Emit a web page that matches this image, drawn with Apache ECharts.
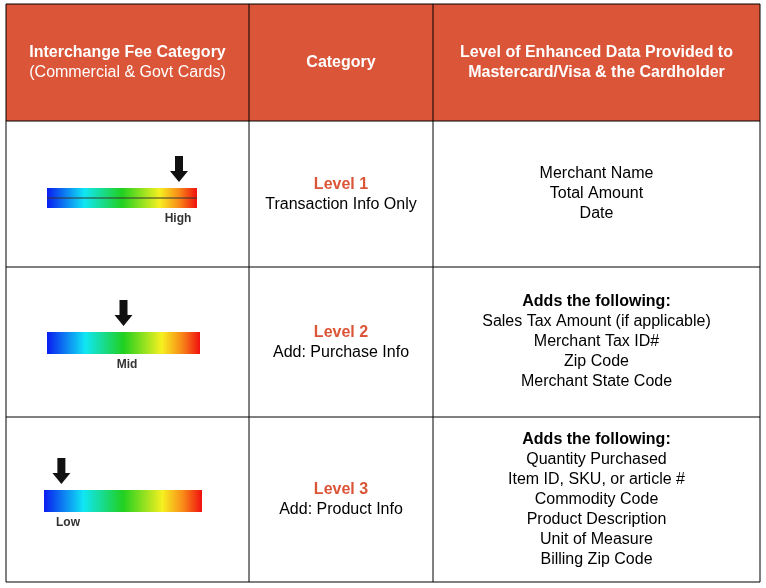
<!DOCTYPE html>
<html>
<head>
  <meta charset="utf-8">
  <script src="https://cdn.jsdelivr.net/npm/echarts@6/dist/echarts.min.js"></script>
  <style>html,body{margin:0;padding:0;background:#fff}</style>
</head>
<body>
  <div id="table" style="width:766px;height:588px;"></div>
  <script>
    // table content
    const headers = [
      ['{b|Interchange Fee Category}', '(Commercial & Govt Cards)'],
      ['{b|Category}'],
      ['{b|Level of Enhanced Data Provided to}', '{b|Mastercard/Visa & the Cardholder}']
    ];
    const levels = ['Level 1', 'Level 2', 'Level 3'];
    const levelDesc = ['Transaction Info Only', 'Add: Purchase Info', 'Add: Product Info'];
    const feeLabels = ['High', 'Mid', 'Low'];
    const arrowPos = [0.88, 0.5, 0.11];   // arrow position along the gradient bar
    const details = [
      ['Merchant Name', 'Total Amount', 'Date'],
      ['{b|Adds the following:}', 'Sales Tax Amount (if applicable)', 'Merchant Tax ID#', 'Zip Code', 'Merchant State Code'],
      ['{b|Adds the following:}', 'Quantity Purchased', 'Item ID, SKU, or article #', 'Commodity Code', 'Product Description', 'Unit of Measure', 'Billing Zip Code']
    ];

    const colX = [6, 249, 433, 760];
    const rowY = [4, 121, 267, 417, 582];
    const bars = [[47, 188, 150, 20], [47, 332, 153, 22], [44, 490, 158, 22]];
    const orange = '#db5538';
    const font = 'Liberation Sans';

    const chart = echarts.init(document.getElementById('table'));
    const g = [];
    g.push({ type: 'rect', shape: { x: colX[0], y: rowY[0], width: colX[3] - colX[0], height: rowY[1] - rowY[0] }, style: { fill: orange } });

    function textBlock(lines, cx, cy, color, size) {
      size = size || 15;
      g.push({
        type: 'text', x: cx, y: cy,
        style: {
          text: lines.join('\n'), fill: color, fontFamily: font, fontSize: size, align: 'center', verticalAlign: 'middle',
          lineHeight: 20, rich: {
            b: { fontWeight: 'bold', fontSize: size, fontFamily: font, fill: color, lineHeight: 20 },
            lv: { fontWeight: 'bold', fontSize: size, fontFamily: font, fill: orange, lineHeight: 20 }
          }
        }
      });
    }

    headers.forEach((h, i) => textBlock(h, (colX[i] + colX[i + 1]) / 2, 63, '#fff', 16));

    levels.forEach((lv, i) => {
      const top = rowY[i + 1], bot = rowY[i + 2];
      const mid = (top + bot) / 2;
      textBlock(['{lv|' + lv + '}', levelDesc[i]], (colX[1] + colX[2]) / 2, [195, 343, 500][i], '#000', 16);
      textBlock(details[i], (colX[2] + colX[3]) / 2, mid, '#000', 16);
      const [bx, by, bw, bh] = bars[i];
      g.push({
        type: 'rect', shape: { x: bx, y: by, width: bw, height: bh },
        style: { fill: new echarts.graphic.LinearGradient(0, 0, 1, 0, [
          { offset: 0, color: '#0a1cf0' }, { offset: 0.25, color: '#10e6f4' }, { offset: 0.5, color: '#20d020' },
          { offset: 0.75, color: '#f6f020' }, { offset: 0.88, color: '#f88a18' }, { offset: 1, color: '#f01010' }]) }
      });
      if (i === 0) g.push({ type: 'line', shape: { x1: bx, y1: by + bh / 2, x2: bx + bw, y2: by + bh / 2 }, style: { stroke: '#333', lineWidth: 1 } });
      const ax = bx + bw * arrowPos[i];
      const ay = by - 32;
      g.push({ type: 'polygon', shape: { points: [[ax - 4, ay], [ax + 4, ay], [ax + 4, ay + 15], [ax + 9, ay + 15], [ax, ay + 26], [ax - 9, ay + 15], [ax - 4, ay + 15]] }, style: { fill: '#111' } });
      const lx = [178, 127, 68][i];
      g.push({ type: 'text', x: lx, y: by + bh + 11, style: { text: feeLabels[i], fontFamily: font, fontSize: 12, fontWeight: 'bold', fill: '#333', align: 'center', verticalAlign: 'middle' } });
    });

    // grid lines
    rowY.forEach(y => g.push({ type: 'line', shape: { x1: colX[0], y1: y, x2: colX[3], y2: y }, style: { stroke: '#000', lineWidth: 1 } }));
    colX.forEach(x => g.push({ type: 'line', shape: { x1: x, y1: rowY[0], x2: x, y2: rowY[4] }, style: { stroke: '#000', lineWidth: 1 } }));

    chart.setOption({ animation: false, graphic: g });
  </script>
</body>
</html>
